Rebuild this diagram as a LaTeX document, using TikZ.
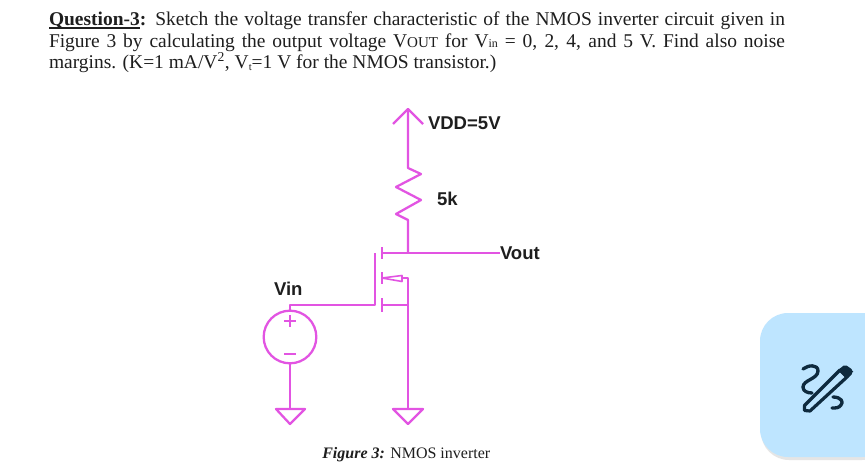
\documentclass[tikz,border=0pt]{standalone}
\usepackage{fontspec}
\setmainfont{Liberation Serif}
\setsansfont{Liberation Sans}
\definecolor{wire}{RGB}{226,84,226}
\definecolor{panel}{RGB}{190,229,255}
\definecolor{pen}{RGB}{14,42,62}
\definecolor{ink}{RGB}{30,30,30}
\newcommand{\lineat}[4]{\node[qline] (#1) at (49,#2) {\hbox to 552pt{#3}};}
\tikzset{
  x=0.75pt,y=-0.75pt,
  qline/.style={anchor=base west,inner sep=0,outer sep=0,font=\fontsize{14.6pt}{16pt}\selectfont,text=ink},
  cir/.style={draw=wire,line width=1.7pt,line join=round},
  lbl/.style={font=\sffamily\bfseries\fontsize{13.9pt}{15pt}\selectfont,text=ink,inner sep=0,outer sep=0},
  vsource/.style={circle,draw=wire,line width=1.7pt,minimum size=39.5pt,inner sep=0,outer sep=0},
}
\begin{document}
\begin{tikzpicture}
\useasboundingbox (0,0) rectangle (865,468);
\fill[white] (0,0) rectangle (865,468);

% question text
\lineat{q1}{25.7}{\textbf{\rlap{\rule[-2.4pt]{68.5pt}{1.1pt}}Question-3:} Sketch the voltage transfer characteristic of the NMOS inverter circuit given in}{}
\lineat{q2}{47}{Figure 3 by calculating the output voltage V{\fontsize{11.3pt}{12pt}\selectfont OUT} for V{\fontsize{9pt}{10pt}\selectfont in} = 0, 2, 4, and 5 V. Find also noise}{}
\node[qline] (q3) at (49,68.7) {margins. (K=1 mA/V\textsuperscript{2}, V{\fontsize{8pt}{9pt}\selectfont\raisebox{-1pt}{t}}=1 V for the NMOS transistor.)};

% named points of the circuit
\coordinate (vddtip) at (408,109);
\coordinate (vddl) at (393,124);
\coordinate (vddr) at (423,124);
\coordinate (rtop) at (408,168);
\coordinate (rbot) at (408,220);
\coordinate (dnode) at (408,253);
\coordinate (dplate) at (382,253);
\coordinate (voutend) at (500,253);
\coordinate (gtop) at (375,253);
\coordinate (gbot) at (375,305);
\coordinate (vintop) at (290,305);
\coordinate (bodytip) at (382,278);
\coordinate (bodyr) at (408,278);
\coordinate (snode) at (408,305);
\coordinate (splate) at (382,305);
\coordinate (gnd2) at (408,409);
\coordinate (gnd1) at (290,409);

\node[vsource] (vs) at (290,337) {};

% supply, resistor, drain
\draw[cir] (vddl) -- (vddtip) -- (vddr);
\draw[cir] (vddtip) -- (rtop) -- (421,174) -- (396,187) -- (421,200) -- (396,214) -- (rbot) -- (dnode);
\draw[cir] (dplate) -- (voutend);
% MOS plates
\draw[cir] (382,247) -- (382,259);
\draw[cir] (382,272) -- (382,284);
\draw[cir] (382,298) -- (382,312);
% gate
\draw[cir] (gtop) -- (gbot) -- (vintop) -- (vs.north);
% body arrow
\draw[cir,line width=1.2pt] (bodytip) -- (402,275.5) -- (402,281.5) -- cycle;
\draw[cir] (402,278) -- (bodyr) -- (gnd2);
\draw[cir] (splate) -- (snode);
% source signs
\draw[cir] (284,321) -- (296,321) (290,315) -- (290,327);
\draw[cir] (284,354) -- (296,354);
% grounds
\draw[cir] (vs.south) -- (gnd1);
\draw[cir] (276,409) -- (305,409) -- (290,424) -- cycle;
\draw[cir] (393,409) -- (423,409) -- (408,424) -- cycle;

% labels
\node[lbl,anchor=west] (lvdd) at (428,123) {VDD=5V};
\node[lbl,anchor=west] (l5k) at (437,199) {5k};
\node[lbl,anchor=west] (lvout) at (500,253) {Vout};
\node[lbl,anchor=west] (lvin) at (274,289) {Vin};

% caption
\node[anchor=base west,inner sep=0,text=ink,font=\fontsize{12pt}{14pt}\selectfont] (cap) at (322,458) {\textbf{\textit{Figure 3:}} NMOS inverter};

% floating panel
\fill[black!10,rounded corners=21pt] (890,315) -- (761,315) -- (761,460) -- (890,460) -- cycle;
\fill[panel,rounded corners=21pt] (890,313) -- (760,313) -- (760,457) -- (890,457) -- cycle;

% pen icon
\begin{scope}[line join=round]
\draw[pen,line width=2.4pt] (804.5,410.5) -- (804.5,405.5) -- (840,370) -- (847,377) -- (810,411) -- cycle;
\fill[pen,rounded corners=1.5pt] (838,370) -- (845,364.5) -- (853,370) -- (853,373) -- (847,379) -- cycle;
\draw[pen,line width=2.5pt,line cap=round] (803,369) .. controls (808,365) and (818,364) .. (818,371) .. controls (818,379) and (803,380) .. (803,387) .. controls (803,391) and (807,393) .. (812,393);
\draw[pen,line width=2.5pt,line cap=round] (833,397) .. controls (841,397) and (844,402) .. (841,405) .. controls (839,408) and (836,408) .. (832,408);
\end{scope}
\end{tikzpicture}
\end{document}
